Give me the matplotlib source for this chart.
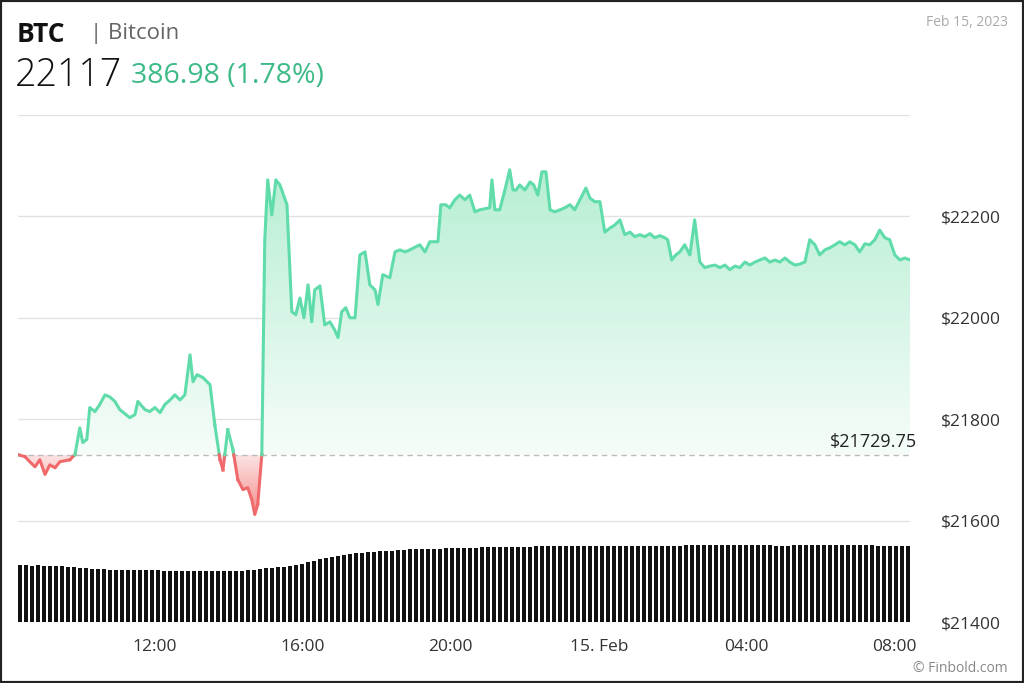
import matplotlib
matplotlib.use("Agg")
import matplotlib.pyplot as plt
import numpy as np
from matplotlib.patches import Rectangle
from matplotlib.path import Path

plt.rcParams["font.family"] = ["Open Sans", "DejaVu Sans"]

# hours since 14 Feb 00:00
price_time = [8.30, 8.49, 8.62, 8.76, 8.89, 9.03, 9.16, 9.30, 9.43, 9.70, 9.84, 9.97, 10.05, 10.16,
              10.24, 10.38, 10.51, 10.65, 10.78, 10.92, 11.05, 11.32, 11.46, 11.54, 11.73, 11.86,
              12.00, 12.14, 12.27, 12.41, 12.54, 12.68, 12.81, 12.95, 13.03, 13.14, 13.30, 13.49,
              13.62, 13.76, 13.84, 13.97, 14.11, 14.24, 14.38, 14.51, 14.62, 14.70, 14.78, 14.89,
              14.97, 15.05, 15.16, 15.27, 15.38, 15.57, 15.70, 15.81, 15.92, 16.03, 16.14, 16.24,
              16.32, 16.46, 16.59, 16.73, 16.86, 16.95, 17.05, 17.16, 17.27, 17.41, 17.54, 17.68,
              17.81, 17.95, 18.03, 18.16, 18.35, 18.49, 18.62, 18.76, 18.89, 19.16, 19.30, 19.43,
              19.65, 19.73, 19.86, 19.97, 20.11, 20.24, 20.38, 20.51, 20.65, 20.78, 21.05, 21.11,
              21.19, 21.32, 21.46, 21.59, 21.68, 21.76, 21.86, 22.00, 22.14, 22.24, 22.35, 22.46,
              22.57, 22.68, 22.81, 22.95, 23.08, 23.22, 23.35, 23.49, 23.65, 23.76, 23.89, 24.03,
              24.16, 24.30, 24.43, 24.57, 24.70, 24.84, 24.97, 25.11, 25.24, 25.38, 25.51, 25.65,
              25.78, 25.86, 25.97, 26.08, 26.19, 26.32, 26.46, 26.59, 26.73, 26.86, 27.00, 27.14,
              27.27, 27.41, 27.54, 27.68, 27.81, 27.95, 28.08, 28.22, 28.35, 28.49, 28.62, 28.76,
              28.89, 29.03, 29.16, 29.30, 29.43, 29.57, 29.70, 29.84, 29.97, 30.11, 30.24, 30.38,
              30.51, 30.65, 30.78, 30.92, 31.05, 31.19, 31.32, 31.46, 31.59, 31.73, 31.86, 32.00,
              32.14, 32.27, 32.41]
price = [21730, 21726, 21716, 21706, 21720, 21691, 21710, 21704, 21716, 21720, 21730, 21783, 21754, 21760,
         21823, 21815, 21829, 21848, 21844, 21835, 21819, 21803, 21809, 21835, 21819, 21815,
         21823, 21813, 21829, 21838, 21848, 21838, 21848, 21927, 21874, 21888, 21882, 21868,
         21789, 21720, 21700, 21779, 21740, 21681, 21661, 21665, 21641, 21612, 21632, 21730,
         22154, 22272, 22203, 22272, 22262, 22223, 22012, 22006, 22039, 22000, 22065, 21992,
         22055, 22063, 21986, 21992, 21976, 21961, 22012, 22020, 22000, 22000, 22124, 22130,
         22065, 22055, 22026, 22085, 22079, 22130, 22134, 22130, 22134, 22144, 22130, 22150,
         22150, 22223, 22223, 22217, 22233, 22242, 22233, 22242, 22209, 22213, 22217, 22272,
         22213, 22213, 22252, 22292, 22252, 22252, 22262, 22252, 22268, 22262, 22242, 22288,
         22288, 22213, 22209, 22213, 22217, 22223, 22213, 22233, 22256, 22236, 22229, 22229,
         22169, 22177, 22183, 22193, 22164, 22169, 22160, 22164, 22160, 22166, 22158, 22162,
         22158, 22154, 22114, 22124, 22130, 22144, 22124, 22193, 22110, 22099, 22102, 22104,
         22099, 22104, 22095, 22102, 22099, 22110, 22104, 22110, 22114, 22118, 22110, 22114,
         22110, 22118, 22110, 22104, 22106, 22110, 22154, 22144, 22124, 22134, 22138, 22144,
         22150, 22144, 22150, 22144, 22130, 22146, 22144, 22154, 22173, 22158, 22154, 22124,
         22114, 22118, 22114]
base_price = 21729.75

# volume bars drawn as height above the 21400 floor
volume = [112, 112, 111, 112, 111, 111, 110, 110, 109, 108, 107, 106, 105, 104, 104, 103, 103,
          103, 102, 102, 102, 102, 102, 102, 101, 101, 101, 101, 101, 101, 100, 100, 100, 100,
          100, 101, 101, 101, 102, 103, 104, 106, 107, 108, 109, 110, 112, 115, 118, 121, 124,
          127, 129, 131, 133, 134, 136, 137, 138, 139, 140, 141, 141, 142, 142, 143, 143, 143,
          144, 144, 144, 145, 145, 145, 146, 146, 146, 147, 147, 147, 147, 148, 148, 148, 148,
          148, 149, 149, 149, 149, 149, 149, 149, 150, 150, 150, 150, 150, 150, 150, 150, 150,
          150, 150, 150, 150, 150, 150, 150, 150, 150, 151, 151, 151, 151, 151, 151, 151, 151,
          151, 151, 151, 151, 151, 151, 151, 150, 150, 150, 151, 151, 151, 151, 151, 151, 151,
          151, 151, 151, 151, 151, 151, 151, 150, 150, 150, 150, 150, 150]
x_ticks = [12, 16, 20, 24, 28, 32]
x_labels = ["12:00", "16:00", "20:00", "15. Feb", "04:00", "08:00"]
y_ticks = [21400, 21600, 21800, 22000, 22200, 22400]

GREEN = "#5fdcaa"
RED = "#f06a6c"
t_start, t_end = 8.30, 32.41

fig = plt.figure(figsize=(10.24, 6.83), dpi=100)
ax = fig.add_axes([18 / 1024, 1 - 622 / 683, (910 - 18) / 1024, (622 - 115) / 683])
ax.set_xlim(t_start, t_end)
ax.set_ylim(21400, 22400)

# grid lines
for yv in y_ticks[1:]:
    ax.axhline(yv, color="#e2e2e2", lw=1, zorder=0)

# volume bars
vt = np.linspace(t_start + 0.05, t_end - 0.05, len(volume))
bw = (vt[1] - vt[0]) * 0.6
ax.bar(vt, volume, width=bw, bottom=21400, color="#111111", zorder=2)

t = np.array(price_time)
p = np.array(price)


def gradient_fill(where, c_far, c_near, y_far):
    poly = ax.fill_between(t, p, base_price, where=where, interpolate=True,
                           color="none", lw=0)
    clip = Path.make_compound_path(*poly.get_paths())
    cmap = matplotlib.colors.LinearSegmentedColormap.from_list("g", [c_near, c_far])
    lo, hi = sorted([base_price, y_far])
    grad = np.linspace(0, 1, 256).reshape(-1, 1)
    if y_far < base_price:
        grad = grad[::-1]
    img = ax.imshow(grad, extent=[t_start, t_end, lo, hi], origin="lower",
                    cmap=cmap, aspect="auto", zorder=1)
    img.set_clip_path(clip, transform=ax.transData)


gradient_fill(p >= base_price, "#b6eed3", "#f6fdf9", 22300)
gradient_fill(p <= base_price, "#f48a8a", "#fde3e3", 21610)
ax.set_xlim(t_start, t_end)
ax.set_ylim(21400, 22400)

# line coloured by side of baseline
ax.plot(t, np.where(p >= base_price, p, np.nan), color=GREEN, lw=2.2, zorder=3)
ax.plot(t, np.where(p <= base_price, p, np.nan), color=RED, lw=2.2, zorder=3)
for i in range(len(p) - 1):
    if (p[i] - base_price) * (p[i + 1] - base_price) < 0:
        tc = t[i] + (base_price - p[i]) / (p[i + 1] - p[i]) * (t[i + 1] - t[i])
        ax.plot([t[i], tc], [p[i], base_price], color=GREEN if p[i] > base_price else RED, lw=2.2, zorder=3)
        ax.plot([tc, t[i + 1]], [base_price, p[i + 1]], color=GREEN if p[i + 1] > base_price else RED, lw=2.2, zorder=3)

ax.axhline(base_price, color="#bbbbbb", lw=1, ls=(0, (4, 3)), zorder=2)
ax.text(t_end + 0.2, base_price + 8, f"${base_price}", ha="right", va="bottom",
        fontsize=13, color="#222222", zorder=4)

ax.set_xticks(x_ticks)
ax.set_xticklabels(x_labels, fontsize=12.5, color="#333333")
ax.set_yticks(y_ticks[:-1])
ax.set_yticklabels([f"${v}" for v in y_ticks[:-1]], fontsize=12.5, color="#333333")
ax.yaxis.tick_right()
ax.tick_params(axis="y", length=0, pad=22)
ax.tick_params(axis="x", length=0, pad=12)
for s in ax.spines.values():
    s.set_visible(False)

fig.text(17 / 1024, 1 - 34 / 683, "BTC", fontsize=19, fontweight="bold", va="center", color="#111111")
fig.text(90 / 1024, 1 - 34 / 683, "| Bitcoin", fontsize=16, va="center", color="#666666")
fig.text(15 / 1024, 1 - 76 / 683, "22117", fontsize=27, va="center", color="#111111",
         fontweight="light")
fig.text(131 / 1024, 1 - 76 / 683, "386.98 (1.78%)", fontsize=20.5, va="center", color="#3dba86")
fig.text(1008 / 1024, 1 - 22 / 683, "Feb 15, 2023", fontsize=10, ha="right", va="center", color="#aaaaaa")
fig.text(1008 / 1024, 1 - 669 / 683, "© Finbold.com", fontsize=10, ha="right", va="center", color="#888888")
fig.patches.append(Rectangle((0, 0), 1, 1, transform=fig.transFigure, fill=False,
                             edgecolor="#222222", lw=3))

fig.savefig("out.png", dpi=100)
